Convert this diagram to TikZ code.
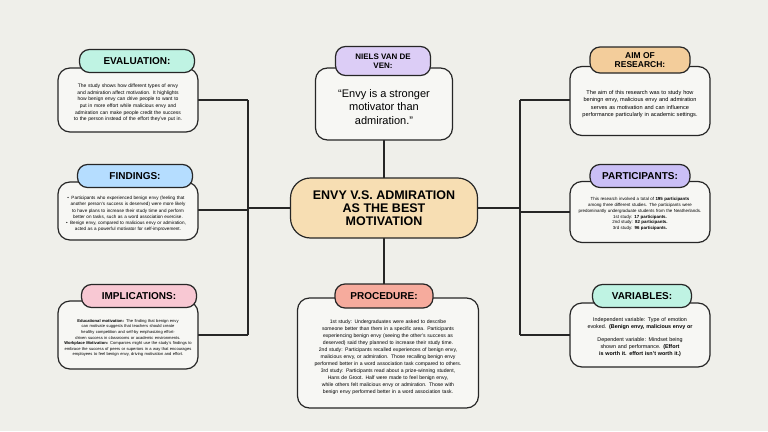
\documentclass[tikz,border=0pt]{standalone}
\usepackage{fontspec}
\setmainfont{Liberation Sans}
\begin{document}
\begin{tikzpicture}[x=1pt,y=-1pt,
 body/.style={draw=black!85,line width=1.2pt,rounded corners=12pt,fill=white!50!bg,align=center,inner sep=2pt},
 head/.style={draw=black!85,line width=1.2pt,rounded corners=10pt,font=\bfseries\fontsize{10}{11}\selectfont,align=center},
 txt/.style={font=\fontsize{5}{6.6}\selectfont,align=center,text width=#1,execute at begin node={\hyphenpenalty=10000\tolerance=9999}},
 ln/.style={draw=black!85,line width=1.2pt}]
\definecolor{bg}{HTML}{EFEFEA}
\definecolor{mint}{HTML}{BFF3E3}
\definecolor{lblue}{HTML}{B5DDFF}
\definecolor{pink}{HTML}{F8C8D3}
\definecolor{lav}{HTML}{DCCDF6}
\definecolor{peach}{HTML}{F7DEB3}
\definecolor{salmon}{HTML}{F6AB9D}
\definecolor{apricot}{HTML}{F3CD9B}
\definecolor{lav2}{HTML}{CABFF6}
\fill[bg] (0,0) rectangle (768,431);
\useasboundingbox (0,0) rectangle (768,431);
% connectors
\coordinate (L1) at (248,100); \coordinate (L2) at (248,210); \coordinate (L3) at (248,335);
\coordinate (R1) at (520,100); \coordinate (R2) at (520,212); \coordinate (R3) at (520,335);
\draw[ln] (L1)--(L3); \draw[ln] (R1)--(R3);
\draw[ln] (248,208)--(300,208); \draw[ln] (520,208)--(470,208);
\draw[ln] (384,130)--(384,300);
\draw[ln] (L1)--(190,100); \draw[ln] (L2)--(190,210); \draw[ln] (L3)--(190,335);
\draw[ln] (R1)--(580,100); \draw[ln] (R2)--(580,212); \draw[ln] (R3)--(580,335);
% bodies
\node[body,minimum width=140,minimum height=64] (evb) at (128,100) {};
\node[txt=122] at (128,103) {The study shows how different types of envy and admiration affect motivation. It highlights how benign envy can drive people to want to put in more effort while malicious envy and admiration can make people credit the success to the person instead of the effort they've put in.};
\node[head,fill=mint,minimum width=115,minimum height=23] (evh) at (137,61) {EVALUATION:};
\node[body,minimum width=140,minimum height=58] (fib) at (128,211) {};
\node[txt=124,font=\fontsize{4.6}{6.3}\selectfont] at (128,214) {%
\makebox[0pt][l]{\hspace*{-4pt}\textbullet}Participants who experienced benign envy (feeling that another person's success is deserved) were more likely to have plans to increase their study time and perform better on tasks, such as a word association exercise.\\
\makebox[0pt][l]{\hspace*{-4pt}\textbullet}Benign envy, compared to malicious envy or admiration, acted as a powerful motivator for self-improvement.};
\node[head,fill=lblue,minimum width=115,minimum height=23] (fih) at (135,176) {FINDINGS:};
\node[body,minimum width=140,minimum height=68] (imb) at (128,335) {};
\node[txt=128,font=\fontsize{4.1}{5.6}\selectfont] at (128,338) {\textbf{Educational motivation:} The finding that benign envy can motivate suggests that teachers should create healthy competition and self-by emphasizing effort-driven success in classrooms or academic environments.\\\textbf{Workplace Motivation:} Companies might use the study's findings to embrace the success of peers or superiors in a way that encourages employees to feel benign envy, driving motivation and effort.};
\node[head,fill=pink,minimum width=115,minimum height=23] (imh) at (139,296) {IMPLICATIONS:};
\node[body,minimum width=137,minimum height=72] (nvb) at (384,104) {};
\node[align=center,font=\fontsize{11}{13.5}\selectfont] at (384,107) {``Envy is a stronger\\motivator than\\admiration.''};
\node[head,fill=lav,minimum width=95,minimum height=29,font=\bfseries\fontsize{8}{9}\selectfont] (nvh) at (383,61) {NIELS VAN DE\\VEN:};
\node[head,fill=peach,minimum width=187,minimum height=60,rounded corners=20pt,font=\bfseries\fontsize{12.5}{13}\selectfont] (c) at (384,208) {ENVY V.S. ADMIRATION\\AS THE BEST\\MOTIVATION};
\node[body,minimum width=181,minimum height=110] (prb) at (388,353) {};
\node[txt=166,font=\fontsize{5.1}{7}\selectfont] at (388,357) {1st study: Undergraduates were asked to describe someone better than them in a specific area. Participants experiencing benign envy (seeing the other's success as deserved) said they planned to increase their study time.\\2nd study: Participants recalled experiences of benign envy, malicious envy, or admiration. Those recalling benign envy performed better in a word association task compared to others.\\3rd study: Participants read about a prize-winning student, Hans de Groot. Half were made to feel benign envy, while others felt malicious envy or admiration. Those with benign envy performed better in a word association task.};
\node[head,fill=salmon,minimum width=98,minimum height=24] (prh) at (384,296) {PROCEDURE:};
\node[body,minimum width=140,minimum height=69] (aib) at (640,101) {};
\node[txt=128,font=\fontsize{5.6}{7.4}\selectfont] at (640,104) {The aim of this research was to study how beningn envy, malicious envy and admiration serves as motivation and can influence performance particularly in academic settings.};
\node[head,fill=apricot,minimum width=100,minimum height=26,font=\bfseries\fontsize{8.5}{9.5}\selectfont] (aih) at (640,60) {AIM OF\\RESEARCH:};
\node[body,minimum width=140,minimum height=61] (pab) at (640,212) {};
\node[txt=126,font=\fontsize{4.4}{5.9}\selectfont] at (640,214) {This research involved a total of \textbf{195 participants} among three different studies. The participants were predominantly undergraduate students from the Neatherlands.\\1st study: \textbf{17 participants.}\\2nd study: \textbf{82 participants.}\\3rd study: \textbf{96 participants.}};
\node[head,fill=lav2,minimum width=100,minimum height=23] (pah) at (640,176) {PARTICIPANTS:};
\node[body,minimum width=140,minimum height=64] (vab) at (640,335) {};
\node[txt=122,font=\fontsize{5.4}{7.2}\selectfont] at (640,337) {Independent variable: Type of emotion evoked. \textbf{(Benign envy, malicious envy or}\\[6pt]Dependent variable: Mindset being shown and performance. \textbf{(Effort is worth it. effort isn't worth it.)}};
\node[head,fill=mint,minimum width=99,minimum height=23] (vah) at (642,296) {VARIABLES:};
\end{tikzpicture}
\end{document}
